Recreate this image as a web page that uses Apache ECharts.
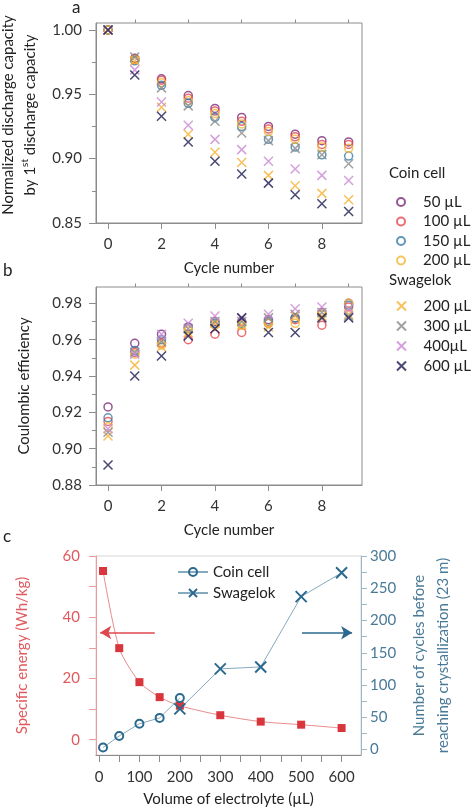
<!DOCTYPE html>
<html>
<head>
<meta charset="utf-8">
<script src="https://cdn.jsdelivr.net/npm/echarts@6/dist/echarts.min.js"></script>
<style>
html, body { margin: 0; padding: 0; background: #fff; }
#chart { width: 474px; height: 808px; }
</style>
</head>
<body>
<div id="chart"></div>
<script>
// cycle number for panels a and b
var cycles = [0, 1, 2, 3, 4, 5, 6, 7, 8, 9];

// a: normalized discharge capacity
var capCoin50 = [1.000, 0.978, 0.962, 0.949, 0.939, 0.932, 0.925, 0.919, 0.914, 0.913];
var capCoin100 = [1.000, 0.977, 0.961, 0.947, 0.937, 0.929, 0.923, 0.917, 0.911, 0.911];
var capCoin150 = [1.000, 0.976, 0.957, 0.943, 0.932, 0.925, 0.915, 0.909, 0.903, 0.902];
var capCoin200 = [1.000, 0.977, 0.959, 0.945, 0.935, 0.927, 0.921, 0.915, 0.909, 0.908];
var capSwag200 = [1.000, 0.976, 0.940, 0.919, 0.905, 0.897, 0.887, 0.879, 0.873, 0.868];
var capSwag300 = [1.000, 0.979, 0.955, 0.941, 0.929, 0.920, 0.914, 0.908, 0.903, 0.896];
var capSwag400 = [1.000, 0.969, 0.944, 0.926, 0.915, 0.907, 0.898, 0.892, 0.887, 0.883];
var capSwag600 = [1.000, 0.965, 0.933, 0.913, 0.898, 0.888, 0.881, 0.872, 0.865, 0.859];

// b: coulombic efficiency
var ceCoin50 = [0.923, 0.958, 0.963, 0.967, 0.970, 0.970, 0.971, 0.972, 0.975, 0.980];
var ceCoin100 = [0.915, 0.953, 0.958, 0.960, 0.963, 0.964, 0.969, 0.971, 0.968, 0.978];
var ceCoin150 = [0.917, 0.954, 0.960, 0.966, 0.969, 0.969, 0.970, 0.972, 0.974, 0.979];
var ceCoin200 = [0.912, 0.952, 0.957, 0.965, 0.968, 0.968, 0.969, 0.969, 0.974, 0.980];
var ceSwag200 = [0.907, 0.946, 0.956, 0.964, 0.969, 0.968, 0.967, 0.973, 0.973, 0.974];
var ceSwag300 = [0.909, 0.953, 0.959, 0.966, 0.970, 0.970, 0.972, 0.974, 0.975, 0.973];
var ceSwag400 = [0.911, 0.952, 0.963, 0.969, 0.973, 0.972, 0.974, 0.977, 0.978, 0.977];
var ceSwag600 = [0.891, 0.940, 0.951, 0.962, 0.966, 0.972, 0.964, 0.964, 0.972, 0.972];

// c: specific energy and cycles before crystallization
var volumes = [10, 50, 100, 150, 200, 300, 400, 500, 600];
var specificEnergy = [55.1, 29.9, 18.8, 13.9, 11.1, 8.0, 5.9, 4.9, 3.8];
var coinVolumes = [10, 50, 100, 150, 200];
var coinCycles = [3, 21, 40, 49, 80];
var swagVolumes = [200, 300, 400, 500, 600];
var swagCycles = [63, 125, 128, 237, 274];

// tick labels
var cycleLabels = [0, 2, 4, 6, 8];
var cycleMinor = [1, 3, 5, 7, 9];
var capLabels = [0.85, 0.90, 0.95, 1.00];
var capMinor = [0.875, 0.925, 0.975];
var ceLabels = [0.88, 0.90, 0.92, 0.94, 0.96, 0.98];
var ceMinor = [0.89, 0.91, 0.93, 0.95, 0.97];
var volumeLabels = [0, 100, 200, 300, 400, 500, 600];
var volumeTicks = [0, 50, 100, 150, 200, 250, 300, 350, 400, 450, 500, 550, 600];
var energyLabels = [0, 20, 40, 60];
var energyTicks = [0, 10, 20, 30, 40, 50, 60];
var cycleCountLabels = [0, 50, 100, 150, 200, 250, 300];
var cycleCountTicks = [0, 25, 50, 75, 100, 125, 150, 175, 200, 225, 250, 275, 300];

var FONT = 'Lato';
var FRAME = '#8c8c8c';
var CROSS = 'path://M0,0L10,10M10,0L0,10';

var groups = [
    { name: '50 µL', color: '#7b2a78', ring: true, cap: capCoin50, ce: ceCoin50 },
    { name: '100 µL', color: '#e8474f', ring: true, cap: capCoin100, ce: ceCoin100 },
    { name: '150 µL', color: '#3a7ca5', ring: true, cap: capCoin150, ce: ceCoin150 },
    { name: 'Coin 200 µL', color: '#f2b632', ring: true, cap: capCoin200, ce: ceCoin200 },
    { name: 'Swagelok 200 µL', color: '#f5b233', ring: false, cap: capSwag200, ce: ceSwag200 },
    { name: '300 µL', color: '#8a8a8a', ring: false, cap: capSwag300, ce: ceSwag300 },
    { name: '400µL', color: '#c98ad3', ring: false, cap: capSwag400, ce: ceSwag400 },
    { name: '600 µL', color: '#1c1a4f', ring: false, cap: capSwag600, ce: ceSwag600 }
];

function pairs(xs, ys) {
    return xs.map(function (x, i) { return [x, ys[i]]; });
}

function markerSeries(g, values, xi, yi) {
    return {
        name: g.name,
        type: 'scatter',
        xAxisIndex: xi,
        yAxisIndex: yi,
        symbol: g.ring ? 'circle' : CROSS,
        symbolSize: g.ring ? 8 : 9,
        symbolKeepAspect: true,
        itemStyle: { color: 'rgba(0,0,0,0)', borderColor: g.color, borderWidth: 1.5 },
        data: pairs(cycles, values)
    };
}

function cycleX(grid, minorTicks) {
    var common = { gridIndex: grid, type: 'value', min: -0.45, max: 9.5, splitLine: { show: false } };
    return [
        Object.assign({}, common, {
            axisLine: { onZero: false, lineStyle: { color: FRAME } },
            axisTick: { customValues: cycles.filter(function (c) { return c % 2 === 0; }), length: 6, lineStyle: { color: FRAME } },
            axisLabel: { customValues: cycleLabels, margin: 14, color: '#333', fontSize: 15, fontFamily: FONT },
            name: 'Cycle number',
            nameLocation: 'middle',
            nameGap: 38,
            nameTextStyle: { color: '#222', fontSize: 15, fontFamily: FONT }
        }),
        Object.assign({}, common, {
            axisLine: { show: false, onZero: false },
            axisTick: { customValues: minorTicks, length: 3.5, lineStyle: { color: FRAME } },
            axisLabel: { show: false }
        })
    ];
}

function minorY(grid, min, max, ticks) {
    return {
        gridIndex: grid, type: 'value', position: 'left', min: min, max: max,
        axisLine: { show: false, onZero: false },
        axisTick: { show: true, customValues: ticks, length: 4, lineStyle: { color: FRAME } },
        axisLabel: { show: false },
        splitLine: { show: false }
    };
}

var series = [];
groups.forEach(function (g) { series.push(markerSeries(g, g.cap, 0, 0)); });
groups.forEach(function (g) { series.push(markerSeries(g, g.ce, 2, 2)); });

series.push({
    name: 'Specific energy',
    type: 'line',
    xAxisIndex: 4,
    yAxisIndex: 4,
    smooth: 0.25,
    symbol: 'rect',
    symbolSize: 8,
    itemStyle: { color: '#d8363c' },
    lineStyle: { color: '#ea8a8d', width: 1 },
    data: pairs(volumes, specificEnergy),
    markLine: {
        silent: true,
        symbol: ['none', 'arrow'],
        symbolSize: [10, 11],
        label: { show: false },
        lineStyle: { color: '#e0474c', width: 1.5, type: 'solid' },
        data: [[{ coord: [138, 35] }, { coord: [3, 35] }]]
    }
});
series.push({
    name: 'Coin cell',
    type: 'line',
    xAxisIndex: 4,
    yAxisIndex: 5,
    symbol: 'circle',
    symbolSize: 8,
    itemStyle: { color: 'rgba(0,0,0,0)', borderColor: '#2b6a8e', borderWidth: 2 },
    lineStyle: { color: '#86aac0', width: 1 },
    data: pairs(coinVolumes, coinCycles)
});
series.push({
    name: 'Swagelok',
    type: 'line',
    xAxisIndex: 4,
    yAxisIndex: 5,
    symbol: CROSS,
    symbolSize: 11,
    symbolKeepAspect: true,
    itemStyle: { color: 'rgba(0,0,0,0)', borderColor: '#2b6a8e', borderWidth: 2 },
    lineStyle: { color: '#86aac0', width: 1 },
    data: pairs(swagVolumes, swagCycles),
    markLine: {
        silent: true,
        symbol: ['none', 'arrow'],
        symbolSize: [10, 11],
        label: { show: false },
        lineStyle: { color: '#2b6a8e', width: 1.5, type: 'solid' },
        data: [[{ coord: [502, 181] }, { coord: [626, 181] }]]
    }
});

var legendText = { color: '#222', fontSize: 15, fontFamily: FONT, lineHeight: 16 };
function stripGroup(name) { return name.replace(/^(Coin|Swagelok) /, ''); }

var option = {
    animation: false,
    backgroundColor: '#fff',
    textStyle: { fontFamily: FONT },
    grid: [
        { left: 96, top: 23, width: 266, height: 200, show: true, borderColor: FRAME, borderWidth: 1, outerBoundsMode: 'none', containLabel: false },
        { left: 96, top: 287, width: 266, height: 198, show: true, borderColor: FRAME, borderWidth: 1, outerBoundsMode: 'none', containLabel: false },
        { left: 96, top: 556, width: 265, height: 199, show: true, borderColor: '#d6d6d6', borderWidth: 1, outerBoundsMode: 'none', containLabel: false }
    ],
    legend: [
        {
            data: groups.slice(0, 4).map(function (g) { return g.name; }),
            orient: 'vertical', left: 391, top: 189, itemWidth: 34, itemHeight: 8, itemGap: 3.5,
            formatter: stripGroup, textStyle: legendText, selectedMode: false
        },
        {
            data: groups.slice(4).map(function (g) { return g.name; }),
            orient: 'vertical', left: 391, top: 293, itemWidth: 34, itemHeight: 9, itemGap: 4,
            formatter: stripGroup, textStyle: legendText, selectedMode: false
        },
        {
            data: ['Coin cell', 'Swagelok'],
            orient: 'vertical', left: 172, top: 559, itemWidth: 30, itemHeight: 10, itemGap: 5,
            textStyle: legendText, selectedMode: false
        }
    ],
    xAxis: cycleX(0, cycleMinor).concat(cycleX(1, cycleMinor)).concat([{
        gridIndex: 2, type: 'value', min: -7.4, max: 648,
        axisLine: { onZero: false, lineStyle: { color: '#8c8c8c' } },
        axisTick: { customValues: volumeTicks, length: 7, lineStyle: { color: '#8c8c8c' } },
        axisLabel: { customValues: volumeLabels, margin: 15, color: '#333', fontSize: 15, fontFamily: FONT },
        splitLine: { show: false },
        name: 'Volume of electrolyte (µL)',
        nameLocation: 'middle',
        nameGap: 37,
        nameTextStyle: { color: '#222', fontSize: 15, fontFamily: FONT }
    }]),
    yAxis: [
        {
            gridIndex: 0, type: 'value', position: 'left', min: 0.85, max: 1.0054,
            axisLine: { show: true, onZero: false, lineStyle: { color: FRAME } },
            axisTick: { show: true, customValues: capLabels, length: 7, lineStyle: { color: FRAME } },
            axisLabel: {
                customValues: capLabels, margin: 14, color: '#333', fontSize: 15, fontFamily: FONT,
                formatter: function (v) { return v.toFixed(2); }
            },
            splitLine: { show: false },
            name: 'Normalized discharge capacity\n{n|by 1}{s|st}{n| discharge capacity}',
            nameLocation: 'middle',
            nameGap: 51,
            nameTextStyle: {
                color: '#222', fontSize: 15, fontFamily: FONT, lineHeight: 22,
                padding: [0, 0, 0, 16],
                rich: {
                    n: { color: '#222', fontSize: 15, fontFamily: FONT, lineHeight: 22 },
                    s: { color: '#222', fontSize: 10, fontFamily: FONT, lineHeight: 14, verticalAlign: 'top' }
                }
            }
        },
        minorY(0, 0.85, 1.0054, capMinor),
        {
            gridIndex: 1, type: 'value', position: 'left', min: 0.88, max: 0.989,
            axisLine: { show: true, onZero: false, lineStyle: { color: FRAME } },
            axisTick: { show: true, customValues: ceLabels, length: 7, lineStyle: { color: FRAME } },
            axisLabel: {
                customValues: ceLabels, margin: 14, color: '#333', fontSize: 15, fontFamily: FONT,
                formatter: function (v) { return v.toFixed(2); }
            },
            splitLine: { show: false },
            name: 'Coulombic efficiency',
            nameLocation: 'middle',
            nameGap: 64,
            nameTextStyle: { color: '#222', fontSize: 15, fontFamily: FONT }
        },
        minorY(1, 0.88, 0.989, ceMinor),
        {
            gridIndex: 2, type: 'value', position: 'left', min: -5, max: 60,
            axisLine: { show: true, onZero: false, lineStyle: { color: '#ef9a9d' } },
            axisTick: { show: true, customValues: energyTicks, length: 7, lineStyle: { color: '#ef9a9d' } },
            axisLabel: { customValues: energyLabels, margin: 16, color: '#e05a5e', fontSize: 15, fontFamily: FONT },
            splitLine: { show: false },
            name: 'Specific energy (Wh/kg)',
            nameLocation: 'middle',
            nameGap: 66,
            nameTextStyle: { color: '#e05a5e', fontSize: 15, fontFamily: FONT }
        },
        {
            gridIndex: 2, type: 'value', position: 'right', min: -8.5, max: 300,
            axisLine: { show: true, onZero: false, lineStyle: { color: '#9db5c5' } },
            axisTick: { show: true, customValues: cycleCountTicks, length: 6, lineStyle: { color: '#9db5c5' } },
            axisLabel: { customValues: cycleCountLabels, margin: 9, color: '#4a7a98', fontSize: 15, fontFamily: FONT },
            splitLine: { show: false },
            name: 'Number of cycles before\nreaching crystallization (23 m)',
            nameLocation: 'middle',
            nameRotate: 90,
            nameGap: 31,
            nameTextStyle: { color: '#4a7a98', fontSize: 15, fontFamily: FONT, lineHeight: 24 }
        }
    ],
    graphic: [
        { type: 'text', left: 72, top: -1, style: { text: 'a', fontSize: 17, fontFamily: FONT, fill: '#222' } },
        { type: 'text', left: 3, top: 262, style: { text: 'b', fontSize: 17, fontFamily: FONT, fill: '#222' } },
        { type: 'text', left: 3, top: 528, style: { text: 'c', fontSize: 17, fontFamily: FONT, fill: '#222' } },
        { type: 'text', left: 389, top: 166, style: { text: 'Coin cell', fontSize: 15, fontFamily: FONT, fill: '#222' } },
        { type: 'text', left: 389, top: 273, style: { text: 'Swagelok', fontSize: 15, fontFamily: FONT, fill: '#222' } }
    ],
    series: series
};

var chart = echarts.init(document.getElementById('chart'));
chart.setOption(option);
window.addEventListener('resize', function () { chart.resize(); });
</script>
</body>
</html>
